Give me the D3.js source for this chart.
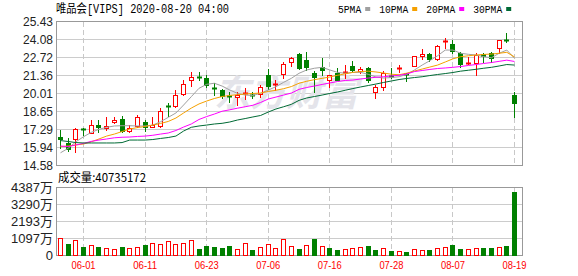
<!DOCTYPE html>
<html>
<head>
<meta charset="utf-8">
<script src="https://cdn.jsdelivr.net/npm/d3@7"></script>
<style>
    body { margin: 0; background: #fff; }
    svg text { font-family: "Liberation Sans", Arial, sans-serif; }
</style>
</head>
<body>
<div id="chart"></div>
<script>
// trading days shown
const dates = ["05-27","05-28","05-29","06-01","06-02","06-03","06-04","06-05","06-08","06-09",
    "06-10","06-11","06-12","06-15","06-16","06-17","06-18","06-19","06-22","06-23",
    "06-24","06-25","06-26","06-29","06-30","07-01","07-02","07-06","07-07","07-08",
    "07-09","07-10","07-13","07-14","07-15","07-16","07-17","07-20","07-21","07-22",
    "07-23","07-24","07-27","07-28","07-29","07-30","07-31","08-03","08-04","08-05",
    "08-06","08-07","08-10","08-11","08-12","08-13","08-14","08-17","08-18","08-19"];

const open = [16.66,16.26,16.54,17.27,17.01,17.57,17.37,17.84,18.07,17.16,
    17.52,17.80,17.47,17.52,19.05,19.05,19.91,20.96,21.19,21.16,
    20.40,20.23,19.80,19.68,19.91,19.85,19.93,21.36,20.58,21.41,
    22.32,22.92,22.49,21.49,21.94,20.98,21.49,21.53,22.06,21.69,
    21.91,20.06,20.48,21.31,21.81,21.44,22.06,22.79,22.92,22.54,
    23.87,23.67,23.04,22.17,22.29,22.92,23.00,23.42,24.00,19.85];
const high = [17.22,16.59,17.35,17.35,17.97,17.95,18.17,18.17,18.27,17.59,
    18.32,17.97,18.22,18.85,19.23,20.23,20.98,21.56,21.56,21.36,
    20.73,20.31,20.06,20.10,20.40,20.10,20.61,21.79,20.98,22.36,
    22.74,23.00,23.12,21.66,22.62,21.36,21.87,22.11,22.42,21.94,
    21.99,20.61,21.66,21.87,22.11,21.49,22.79,23.32,23.04,23.63,
    24.13,24.00,23.12,22.74,23.00,23.00,23.07,24.00,24.50,20.06];
const low = [15.84,15.66,15.58,16.84,16.97,17.09,17.22,17.77,17.09,17.09,
    17.42,17.16,17.47,17.42,18.27,18.97,19.85,20.55,20.98,20.48,
    19.85,19.60,19.35,19.10,19.55,19.60,19.73,20.31,20.23,21.11,
    22.06,21.81,21.74,20.06,21.36,20.48,20.96,21.11,21.61,21.49,
    20.86,19.60,20.23,21.11,21.61,20.91,22.06,22.57,22.42,22.49,
    23.42,23.04,21.99,22.17,21.36,22.36,22.36,22.99,23.87,18.22];
const close = [16.52,15.76,17.27,17.20,17.57,17.47,17.52,17.97,17.16,17.39,
    18.22,17.42,17.57,18.67,18.93,19.85,20.68,21.19,21.11,20.61,
    20.31,19.80,19.73,19.88,19.98,19.78,20.48,20.55,20.66,22.17,
    22.66,21.87,21.94,21.19,21.74,21.36,20.98,21.61,21.74,21.79,
    20.98,20.48,21.53,21.23,21.91,21.36,22.79,22.92,22.57,23.55,
    23.95,23.17,22.19,22.24,22.87,22.82,22.67,24.00,23.92,19.27];
const prevClose = 16.40;

// volume, 万股
const volume = [1116,710,968,516,626,516,452,387,516,452,
    516,645,755,710,884,710,774,968,387,581,
    516,452,581,387,755,323,516,710,452,1032,
    581,387,645,1032,581,452,323,387,452,516,
    581,323,452,258,258,194,387,323,323,452,
    516,645,387,387,452,452,452,516,581,4073.5172];
const lastVolume = "40735172";

// moving averages as drawn
const ma5 = [15.50,15.84,16.33,16.71,17.04,17.27,17.42,17.52,17.54,17.54,
    17.52,17.52,17.59,17.84,18.17,18.50,19.10,19.73,20.36,20.66,
    20.74,20.53,20.23,19.98,19.85,19.82,19.98,20.23,20.48,20.81,
    21.11,21.49,21.74,21.87,21.94,21.74,21.56,21.49,21.56,21.56,
    21.41,21.21,21.13,21.17,21.23,21.41,21.74,22.11,22.44,22.81,
    23.24,23.24,23.00,22.92,22.87,22.74,22.66,23.00,23.24,22.62];
const ma10 = [15.96,16.01,16.09,16.16,16.33,16.54,16.76,16.91,17.10,17.29,
    17.40,17.48,17.59,17.71,17.86,18.12,18.50,18.87,19.18,19.40,
    19.59,19.74,19.82,19.88,19.93,19.97,20.00,20.12,20.21,20.33,
    20.49,20.74,20.89,21.01,21.11,21.21,21.34,21.45,21.56,21.62,
    21.65,21.59,21.51,21.42,21.38,21.50,21.66,21.81,21.96,22.11,
    22.34,22.58,22.74,22.81,22.87,22.91,22.94,23.00,23.07,22.72];
const ma20 = [16.01,15.97,16.09,16.21,16.36,16.46,16.54,16.63,16.67,16.69,
    16.73,16.76,16.82,16.91,16.99,17.18,17.44,17.67,18.01,18.23,
    18.42,18.63,18.74,18.86,18.97,19.08,19.29,19.55,19.70,19.85,
    20.00,20.28,20.42,20.53,20.65,20.76,20.87,20.95,20.98,21.06,
    21.13,21.19,21.23,21.29,21.34,21.44,21.62,21.70,21.78,21.85,
    21.89,21.94,22.00,22.08,22.15,22.23,22.30,22.39,22.48,22.38];
const ma30 = [16.42,16.35,16.27,16.24,16.24,16.24,16.24,16.24,16.27,16.46,
    16.46,16.46,16.50,16.58,16.65,16.76,17.14,17.42,17.52,17.59,
    17.67,17.72,17.82,17.97,18.08,18.20,18.31,18.57,18.80,18.97,
    19.15,19.45,19.63,19.74,19.85,19.97,20.08,20.21,20.34,20.46,
    20.57,20.68,20.80,20.91,21.02,21.10,21.17,21.23,21.32,21.40,
    21.47,21.55,21.65,21.72,21.79,21.87,21.94,22.04,22.15,22.11];

const priceTicks = [14.58,15.94,17.29,18.65,20.01,21.36,22.72,24.08,25.43];
const volTicks = [0,1097,2193,3290,4387];
const dateTicks = ["06-01","06-11","06-23","07-06","07-16","07-28","08-07","08-19"];
const maNames = ["5PMA","10PMA","20PMA","30PMA"];
const maColors = ["#a0a0a0","#f5a000","#ff00ff","#006a35"];
const title = "唯品会[VIPS] 2020-08-20 04:00";

const width = 578, height = 276;
const left = 56, right = 522;
const pTop = 21, pBottom = 165, vTop = 187, vBottom = 255;
const RED = "#ff0000", GREEN = "#008000";

let svg = d3.select("#chart").append("svg")
    .attr("width", width)
    .attr("height", height);

// scales
let x = d3.scalePoint().domain(dates).range([60, 514]);
let y = d3.scaleLinear().domain([priceTicks[0], priceTicks[priceTicks.length - 1]]).range([pBottom, pTop]);
let yv = d3.scaleLinear().domain([0, volTicks[volTicks.length - 1]]).range([vBottom, vTop]);
let px = v => Math.round(v) + 0.5;

// horizontal grid
svg.append("g").selectAll("line")
    .data(priceTicks.slice(1, -1))
    .enter().append("line")
    .attr("x1", left).attr("x2", right)
    .attr("y1", d => px(y(d))).attr("y2", d => px(y(d)))
    .attr("stroke", "#cccccc");
svg.append("g").selectAll("line")
    .data(volTicks.slice(1, -1))
    .enter().append("line")
    .attr("x1", left).attr("x2", right)
    .attr("y1", d => px(yv(d))).attr("y2", d => px(yv(d)))
    .attr("stroke", "#cccccc");

// vertical dashed grid
[[pTop, pBottom], [vTop, vBottom]].forEach(r => {
    svg.append("g").selectAll("line")
        .data(dateTicks)
        .enter().append("line")
        .attr("x1", d => px(x(d))).attr("x2", d => px(x(d)))
        .attr("y1", r[0] + 1).attr("y2", r[1])
        .attr("stroke", "#c8c8c8")
        .attr("stroke-dasharray", "5,3");
});

// watermark
svg.append("text")
    .attr("x", 214).attr("y", 106)
    .attr("font-size", 36)
    .attr("font-weight", "bold")
    .attr("font-style", "italic")
    .attr("fill", "#e4e4ea")
    .style("font-family", "'Noto Sans CJK SC', sans-serif")
    .text("东方财富");

// frames
svg.append("rect").attr("x", left + 0.5).attr("y", pTop + 0.5)
    .attr("width", right - left).attr("height", pBottom - pTop)
    .attr("fill", "none").attr("stroke", "#999999");
svg.append("rect").attr("x", left + 0.5).attr("y", vTop + 0.5)
    .attr("width", right - left).attr("height", vBottom - vTop)
    .attr("fill", "none").attr("stroke", "#999999");

// y labels
svg.append("g").selectAll("text")
    .data(priceTicks)
    .enter().append("text")
    .attr("x", 53).attr("y", d => y(d) + 5)
    .attr("text-anchor", "end")
    .attr("font-size", 13)
    .attr("fill", "#222")
    .attr("textLength", 30)
    .attr("lengthAdjust", "spacingAndGlyphs")
    .text(d => d.toFixed(2));
svg.append("g").selectAll("text")
    .data(volTicks)
    .enter().append("text")
    .attr("x", 53).attr("y", d => yv(d) + 5)
    .attr("text-anchor", "end")
    .attr("font-size", 13)
    .attr("fill", "#222")
    .style("font-family", "'Liberation Sans', 'Noto Sans CJK SC', sans-serif")
    .text(d => d === 0 ? "0" : d + "万");

// x labels
svg.append("g").selectAll("text")
    .data(dateTicks)
    .enter().append("text")
    .attr("x", d => x(d) + 0.5).attr("y", 269)
    .attr("text-anchor", "middle")
    .attr("font-size", 10.5)
    .attr("fill", RED)
    .attr("textLength", 24)
    .attr("lengthAdjust", "spacingAndGlyphs")
    .text(d => d);

// candles
let candles = dates.map((d, i) => ({date: d, o: open[i], h: high[i], l: low[i], c: close[i]}));
let cg = svg.append("g");
candles.forEach(d => {
    let cx = Math.round(x(d.date));
    let up = d.c >= d.o;
    let col = up ? RED : GREEN;
    let top = Math.round(y(Math.max(d.o, d.c)));
    let bot = Math.round(y(Math.min(d.o, d.c)));
    let yh = Math.round(y(d.h)), yl = Math.round(y(d.l));
    if (bot - top < 2) {
        cg.append("line").attr("x1", cx + 0.5).attr("x2", cx + 0.5)
            .attr("y1", yh).attr("y2", yl + 1).attr("stroke", col);
        cg.append("line").attr("x1", cx - 2).attr("x2", cx + 3)
            .attr("y1", top + 0.5).attr("y2", top + 0.5).attr("stroke", col)
            .attr("stroke-width", bot - top < 1 ? 1 : 2);
    } else if (up) {
        cg.append("line").attr("x1", cx + 0.5).attr("x2", cx + 0.5)
            .attr("y1", yh).attr("y2", top).attr("stroke", col);
        cg.append("line").attr("x1", cx + 0.5).attr("x2", cx + 0.5)
            .attr("y1", bot + 1).attr("y2", yl + 1).attr("stroke", col);
        cg.append("rect").attr("x", cx - 1.5).attr("y", top + 0.5)
            .attr("width", 4).attr("height", bot - top)
            .attr("fill", "#fff").attr("stroke", col);
    } else {
        cg.append("line").attr("x1", cx + 0.5).attr("x2", cx + 0.5)
            .attr("y1", yh).attr("y2", yl + 1).attr("stroke", col);
        cg.append("rect").attr("x", cx - 2).attr("y", top)
            .attr("width", 5).attr("height", bot - top + 1)
            .attr("fill", col);
    }
});

// volume bars, coloured against previous close
let vg = svg.append("g");
volume.forEach((v, i) => {
    let cx = Math.round(x(dates[i]));
    let up = close[i] >= (i === 0 ? prevClose : close[i - 1]);
    let top = Math.round(yv(v));
    if (up) {
        vg.append("rect").attr("x", cx - 1.5).attr("y", top + 0.5)
            .attr("width", 4).attr("height", vBottom - top)
            .attr("fill", "#fff").attr("stroke", RED);
    } else {
        vg.append("rect").attr("x", cx - 2).attr("y", top)
            .attr("width", 5).attr("height", vBottom - top + 1)
            .attr("fill", GREEN);
    }
});

// MA lines
let line = d3.line()
    .x((d, i) => x(dates[i]) + 0.5)
    .y(d => y(d));
[ma5, ma10, ma20, ma30].forEach((m, k) => {
    svg.append("path")
        .datum(m)
        .attr("d", line)
        .attr("fill", "none")
        .attr("stroke", maColors[k])
        .attr("stroke-width", 1);
});

// title
svg.append("text")
    .attr("x", 56).attr("y", 12.5)
    .attr("font-size", 12)
    .attr("fill", "#000")
    .attr("textLength", 173)
    .attr("lengthAdjust", "spacingAndGlyphs")
    .style("font-family", "'Liberation Mono', 'Noto Sans CJK SC', monospace")
    .text(title);

// legend
let lx = 338;
maNames.forEach((name, k) => {
    let w = name.length * 5.8;
    svg.append("text")
        .attr("x", lx).attr("y", 12.5)
        .attr("font-size", 11.5)
        .attr("fill", "#000")
        .attr("textLength", w)
        .attr("lengthAdjust", "spacingAndGlyphs")
        .style("font-family", "'Liberation Mono', monospace")
        .text(name);
    svg.append("rect")
        .attr("x", lx + w + 4).attr("y", 7)
        .attr("width", 5).attr("height", 4)
        .attr("fill", maColors[k]);
    lx += w + 4 + 5 + 9;
});

// volume caption
svg.append("text")
    .attr("x", 58).attr("y", 181.5)
    .attr("font-size", 12)
    .attr("fill", "#000")
    .attr("textLength", 88)
    .attr("lengthAdjust", "spacingAndGlyphs")
    .style("font-family", "'Noto Sans CJK SC', sans-serif")
    .text("成交量:" + lastVolume);
</script>
</body>
</html>
